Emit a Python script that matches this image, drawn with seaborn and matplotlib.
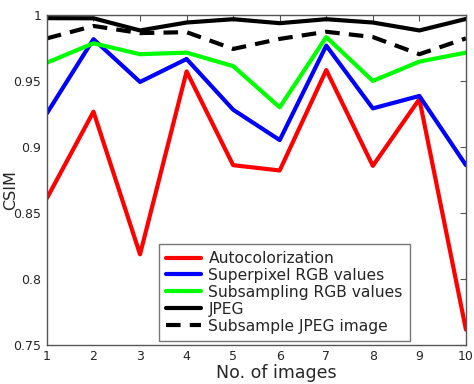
import matplotlib
matplotlib.use("Agg")
import matplotlib.pyplot as plt
import pandas as pd
import seaborn as sns

images = list(range(1, 11))

autocolorization = [0.861, 0.9265, 0.8185, 0.957, 0.886, 0.882, 0.958, 0.8855, 0.936, 0.7615]
superpixel_rgb = [0.9253, 0.9814, 0.949, 0.9664, 0.928, 0.905, 0.9765, 0.929, 0.9384, 0.886]
subsampling_rgb = [0.9636, 0.9783, 0.970, 0.9712, 0.961, 0.9298, 0.983, 0.9498, 0.9644, 0.9712]
jpeg = [0.9973, 0.9972, 0.988, 0.994, 0.9965, 0.9935, 0.9965, 0.994, 0.988, 0.9967]
subsample_jpeg = [0.982, 0.9914, 0.986, 0.9867, 0.974, 0.9816, 0.987, 0.983, 0.970, 0.982]

series = [
    ("Autocolorization", autocolorization, "#ff0000", "-"),
    ("Superpixel RGB values", superpixel_rgb, "#0000ff", "-"),
    ("Subsampling RGB values", subsampling_rgb, "#00ff00", "-"),
    ("JPEG", jpeg, "#000000", "-"),
    ("Subsample JPEG image", subsample_jpeg, "#000000", "--"),
]

sns.set_style("white")
plt.rcParams["font.family"] = ["DejaVu Sans"]

fig, ax = plt.subplots(figsize=(4.74, 3.84), dpi=100)

for name, vals, color, ls in series:
    df = pd.DataFrame({"image": images, "csim": vals})
    sns.lineplot(data=df, x="image", y="csim", color=color, linewidth=3,
                 label=name, ax=ax)
    if ls == "--":
        ax.lines[-1].set_dashes((3.5, 2.2))

ax.set_xlim(1, 10)
ax.set_ylim(0.75, 1.0)
ax.set_xticks(images)
ax.set_yticks([0.75, 0.8, 0.85, 0.9, 0.95, 1.0])
ax.set_yticklabels(["0.75", "0.8", "0.85", "0.9", "0.95", "1"])
ax.tick_params(direction="in", length=4, width=0.8, color="#555555",
               labelsize=9, top=True, right=True, pad=4)
for sp in ax.spines.values():
    sp.set_color("#555555")
    sp.set_linewidth(1.0)

ax.set_xlabel("No. of images", fontsize=12.5)
ax.set_ylabel("CSIM", fontsize=11.5)
ax.xaxis.set_label_coords(0.547, -0.058)
ax.yaxis.set_label_coords(-0.069, 0.47)

leg = ax.legend(loc="lower right", bbox_to_anchor=(0.866, 0.013), fontsize=11.2,
                frameon=True, fancybox=False, borderpad=0.45, labelspacing=0.12,
                handlelength=2.3, handletextpad=0.45, borderaxespad=0)
leg.get_frame().set_edgecolor("#555555")
leg.get_frame().set_linewidth(1.0)

fig.subplots_adjust(left=0.099, right=0.983, top=0.962, bottom=0.102)
fig.savefig("out.png", dpi=100)
